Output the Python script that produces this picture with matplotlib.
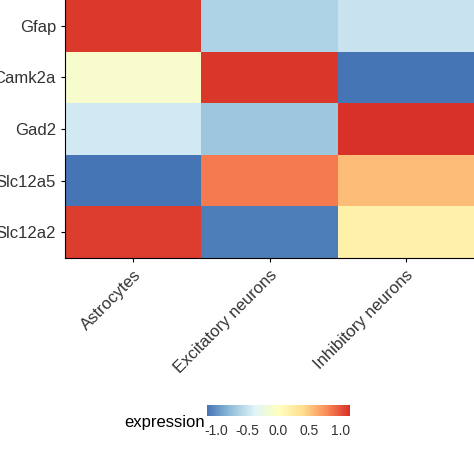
import numpy as np
import matplotlib
matplotlib.use("Agg")
import matplotlib.pyplot as plt
from matplotlib.colors import LinearSegmentedColormap

plt.rcParams["font.family"] = ["Liberation Sans", "DejaVu Sans"]

genes = ["Gfap", "Camk2a", "Gad2", "Slc12a5", "Slc12a2"]
cells = ["Astrocytes", "Excitatory neurons", "Inhibitory neurons"]
expression = np.array([
    [1.12, -0.62, -0.50],
    [-0.08, 1.13, -1.15],
    [-0.45, -0.70, 1.15],
    [-1.15, 0.85, 0.55],
    [1.10, -1.10, 0.18],
])
vmin, vmax = -1.15, 1.16
palette = ["#4575b4", "#91bfdb", "#e0f3f8", "#ffffbf", "#fee090", "#fc8d59", "#d73027"]
cmap = LinearSegmentedColormap.from_list("rdylbu7", palette)

fig = plt.figure(figsize=(4.74, 4.74), dpi=100)
ax = fig.add_axes([65 / 474, 1 - 258 / 474, 409 / 474, 258 / 474])
mesh = ax.pcolormesh(expression, cmap=cmap, vmin=vmin, vmax=vmax)
ax.set_xlim(0, 3)
ax.set_ylim(5, 0)
ax.set_yticks(np.arange(5) + 0.5)
ax.set_yticklabels(genes, fontsize=12)
ax.set_xticks(np.arange(3) + 0.5)
ax.set_xticklabels(cells, fontsize=12, rotation=45, ha="right", rotation_mode="anchor")
ax.spines["top"].set_visible(False)
ax.spines["right"].set_visible(False)
ax.tick_params(length=3, colors="black", labelcolor="#333333")

cax = fig.add_axes([207 / 474, 1 - 416 / 474, 143 / 474, 11 / 474])
cb = fig.colorbar(mesh, cax=cax, orientation="horizontal", ticks=[-1, -0.5, 0, 0.5, 1])
cb.ax.set_xticklabels(["-1.0", "-0.5", "0.0", "0.5", "1.0"], fontsize=10)
cb.outline.set_visible(False)
cb.ax.tick_params(length=2, color="white", labelcolor="#333333")
fig.text(124 / 474, 1 - 422 / 474, "expression", fontsize=12, va="center")

fig.savefig("out.png", dpi=100)
